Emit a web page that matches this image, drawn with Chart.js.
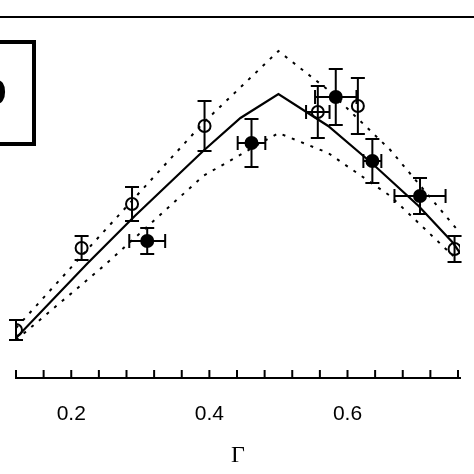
<!DOCTYPE html>
<html>
<head>
<meta charset="utf-8">
<script src="https://cdn.jsdelivr.net/npm/chart.js@4/dist/chart.umd.min.js"></script>
<style>
  body { margin: 0; background: #fff; }
  #wrap { width: 474px; height: 474px; }
</style>
</head>
<body>
<div id="wrap"><canvas id="chart"></canvas></div>
<script>
// ---- data (y in arbitrary units) ----
const solidX = [0.12, 0.224, 0.292, 0.391, 0.445, 0.50, 0.572, 0.635, 0.703, 0.753, 0.763];
const solidY = [40, 115, 162, 227, 260, 284, 252, 215, 172, 135, 125];
const upperX = [0.12, 0.228, 0.391, 0.50, 0.572, 0.662, 0.763];
const upperY = [50, 132, 255, 327, 288, 228, 145];
const lowerX = [0.12, 0.247, 0.391, 0.50, 0.572, 0.662, 0.753];
const lowerY = [38, 112, 202, 245, 225, 182, 122];

const openX  = [0.12, 0.215, 0.288, 0.393, 0.557, 0.615, 0.755];
const openY  = [48, 130, 174, 252, 266, 272, 129];
const openEy = [10, 12, 17, 25, 26, 28, 13];
const openEx = [0, 0, 0, 0, 0.017, 0, 0];

const fullX  = [0.31, 0.461, 0.583, 0.636, 0.705];
const fullY  = [137, 235, 281, 217, 182];
const fullEy = [13, 24, 28, 22, 18];
const fullEx = [0.026, 0.02, 0.03, 0.013, 0.037];

const tickVals = [0.12, 0.16, 0.2, 0.24, 0.28, 0.32, 0.36, 0.4, 0.44, 0.48, 0.52, 0.56, 0.6, 0.64, 0.68, 0.72, 0.76];
const labelVals = [0.2, 0.4, 0.6];

const pts = (xs, ys) => xs.map((x, i) => ({ x: x, y: ys[i] }));

// ---- error bars, inward ticks, frame, panel box ----
const extras = {
    id: 'extras',
    afterDatasetsDraw(chart) {
        const ctx = chart.ctx, xs = chart.scales.x, ys = chart.scales.y, a = chart.chartArea;
        ctx.save();
        ctx.strokeStyle = '#000';
        ctx.lineWidth = 2;
        const bars = (X, Y, EX, EY) => X.forEach((x, i) => {
            const px = xs.getPixelForValue(x), py = ys.getPixelForValue(Y[i]);
            const t = ys.getPixelForValue(Y[i] + EY[i]), b = ys.getPixelForValue(Y[i] - EY[i]);
            ctx.beginPath();
            ctx.moveTo(px, t); ctx.lineTo(px, b);
            ctx.moveTo(px - 7, t); ctx.lineTo(px + 7, t);
            ctx.moveTo(px - 7, b); ctx.lineTo(px + 7, b);
            if (EX[i]) {
                const l = xs.getPixelForValue(x - EX[i]), r = xs.getPixelForValue(x + EX[i]);
                ctx.moveTo(l, py); ctx.lineTo(r, py);
                ctx.moveTo(l, py - 7); ctx.lineTo(l, py + 7);
                ctx.moveTo(r, py - 7); ctx.lineTo(r, py + 7);
            }
            ctx.stroke();
        });
        bars(openX, openY, openEx, openEy);
        bars(fullX, fullY, fullEx, fullEy);

        // top frame line
        ctx.beginPath();
        ctx.moveTo(0, a.top); ctx.lineTo(474, a.top);
        ctx.stroke();
        // inward ticks on bottom axis
        tickVals.forEach(v => {
            const px = xs.getPixelForValue(v);
            ctx.beginPath();
            ctx.moveTo(px, a.bottom); ctx.lineTo(px, a.bottom - 8);
            ctx.stroke();
        });
        // panel label box
        ctx.lineWidth = 4;
        ctx.strokeRect(-10, 42, 44, 102);
        ctx.fillStyle = '#000';
        ctx.font = 'bold 44px "Liberation Sans", Arial';
        ctx.textBaseline = 'middle';
        ctx.fillText('b', -20, 92);
        ctx.restore();
    }
};

new Chart(document.getElementById('chart'), {
    type: 'scatter',
    data: {
        datasets: [
            { data: pts(solidX, solidY), showLine: true, borderColor: '#000', borderWidth: 2.2, pointRadius: 0 },
            { data: pts(upperX, upperY), showLine: true, borderColor: '#000', borderWidth: 2, borderDash: [3, 7], pointRadius: 0 },
            { data: pts(lowerX, lowerY), showLine: true, borderColor: '#000', borderWidth: 2, borderDash: [3, 7], pointRadius: 0 },
            { data: pts(openX, openY), pointRadius: 6, pointBackgroundColor: '#fff', pointBorderColor: '#000', pointBorderWidth: 2 },
            { data: pts(fullX, fullY), pointRadius: 6, pointBackgroundColor: '#000', pointBorderColor: '#000', pointBorderWidth: 2 }
        ]
    },
    options: {
        responsive: true,
        maintainAspectRatio: false,
        animation: false,
        events: [],
        layout: { padding: { top: 17, left: -18, right: -16, bottom: 0 } },
        plugins: { legend: { display: false }, tooltip: { enabled: false } },
        scales: {
            x: {
                type: 'linear', min: 0.12, max: 0.763,
                grid: { display: false },
                border: { display: true, color: '#000', width: 2 },
                afterBuildTicks: s => { s.ticks = tickVals.map(v => ({ value: v })); },
                afterFit: s => { s.height = 96; },
                ticks: {
                    autoSkip: false, maxRotation: 0, padding: 16,
                    color: '#000', font: { size: 21, family: '"Liberation Sans", Arial' },
                    callback: v => labelVals.some(l => Math.abs(l - v) < 1e-6) ? v.toFixed(1) : ''
                },
                title: {
                    display: true, text: 'Γ', color: '#000', padding: { top: 14 },
                    font: { size: 24, family: '"Liberation Serif", serif' }
                }
            },
            y: { display: false, min: 0, max: 361 }
        }
    },
    plugins: [extras]
});
</script>
</body>
</html>
